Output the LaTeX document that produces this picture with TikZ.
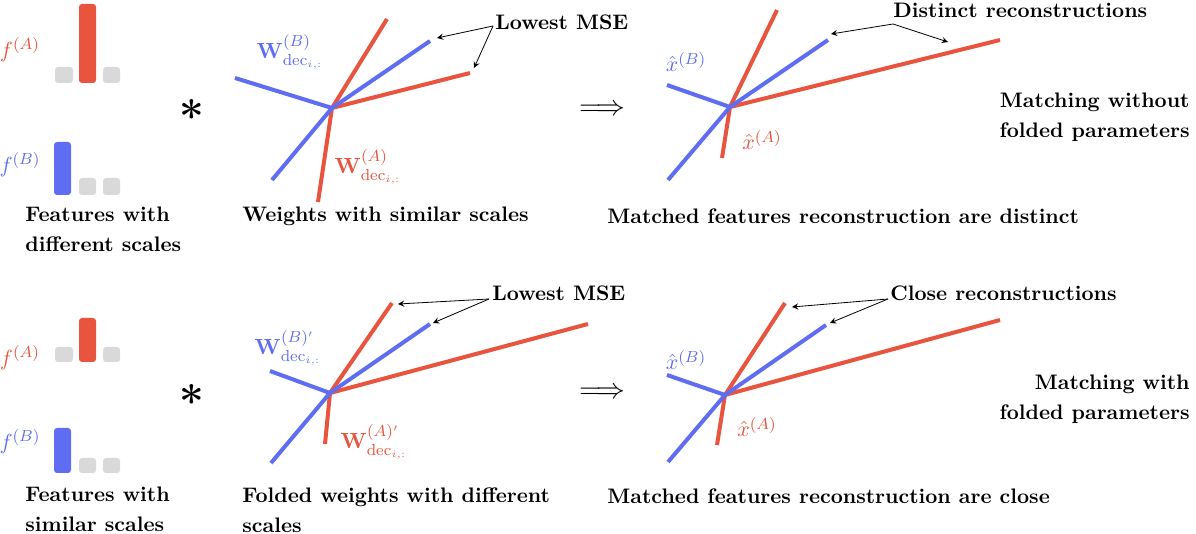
\documentclass[tikz,border=0pt]{standalone}
\usepackage{amsmath,bm}
\begin{document}
\begin{tikzpicture}[x=0.5pt,y=-0.5pt,
  txt/.style={font=\bfseries\fontsize{10.5}{12}\selectfont,inner sep=0pt},
  lab/.style={font=\fontsize{11}{12}\selectfont,inner sep=1pt},
  rl/.style={draw=myred,line width=2pt},
  bl/.style={draw=myblue,line width=2pt},
  bar/.style={rounded corners=1.5pt},
  arr/.style={->,>=stealth,thin}]
\definecolor{myred}{HTML}{E8543D}
\definecolor{myblue}{HTML}{5F6DF2}
\definecolor{mygrey}{HTML}{D9D9D9}
\useasboundingbox (0,0) rectangle (1196,534);
% ---------- top row
\fill[mygrey,bar] (55,67) rectangle (73,83);
\fill[myred,bar] (79,4) rectangle (96,83);
\fill[mygrey,bar] (103,67) rectangle (120,83);
\node[lab,text=myred] (fa1) at (20,50) {$f^{(A)}$};
\fill[myblue,bar] (54,142) rectangle (71,195);
\fill[mygrey,bar] (79,178) rectangle (96,195);
\fill[mygrey,bar] (103,178) rectangle (120,195);
\node[lab,text=myblue] (fb1) at (20,165) {$f^{(B)}$};
\node[txt,align=left,anchor=north west] (t1) at (25,207) {Features with\\[3pt]different scales};
\node (s1) at (192,116) {\fontsize{22}{22}\selectfont\bfseries *};
\coordinate (c1) at (332,108);
\coordinate (r1a) at (387,19); \coordinate (b1a) at (430,41); \coordinate (r1b) at (470,73);
\draw[rl] (c1)--(r1a); \draw[rl] (c1)--(r1b); \draw[rl] (c1)--(318,202);
\draw[bl] (c1)--(b1a); \draw[bl] (c1)--(235,78); \draw[bl] (c1)--(272,180);
\node[lab,text=myblue] (wb1) at (290,52) {$\mathbf{W}^{(B)}_{\mathrm{dec}_{i,:}}$};
\node[lab,text=myred] (wa1) at (368,167) {$\mathbf{W}^{(A)}_{\mathrm{dec}_{i,:}}$};
\node[txt,anchor=west] (l1) at (495,22) {Lowest MSE};
\coordinate (ap1) at (493,26);
\draw[arr] (ap1)--(437,38); \draw[arr] (ap1)--(474,68);
\node[txt,anchor=west] (t2) at (242,216) {Weights with similar scales};
\node (i1) at (602,110) {\Large$\Longrightarrow$};
\coordinate (c2) at (730,107);
\draw[rl] (c2)--(777,10); \draw[rl] (c2)--(1000,40); \draw[rl] (c2)--(722,158);
\draw[bl] (c2)--(828,40); \draw[bl] (c2)--(667,85); \draw[bl] (c2)--(668,180);
\node[lab,text=myblue] (xb1) at (686,62) {$\hat{x}^{(B)}$};
\node[lab,text=myred] (xa1) at (762,140) {$\hat{x}^{(A)}$};
\node[txt,anchor=west] (d1) at (893,10) {Distinct reconstructions};
\coordinate (ap2) at (893,24);
\draw[arr] (ap2)--(831,34); \draw[arr] (ap2)--(948,42);
\node[txt,align=right,anchor=east] (m1) at (1190,117) {Matching without\\[3pt]folded parameters};
\node[txt,anchor=west] (t3) at (607,216) {Matched features reconstruction are distinct};
% ---------- bottom row
\fill[mygrey,bar] (55,347) rectangle (73,362);
\fill[myred,bar] (79,318) rectangle (96,362);
\fill[mygrey,bar] (103,347) rectangle (120,362);
\node[lab,text=myred] (fa2) at (20,358) {$f^{(A)}$};
\fill[myblue,bar] (54,428) rectangle (71,473);
\fill[mygrey,bar] (79,458) rectangle (96,473);
\fill[mygrey,bar] (103,458) rectangle (120,473);
\node[lab,text=myblue] (fb2) at (20,442) {$f^{(B)}$};
\node[txt,align=left,anchor=north west] (t4) at (25,487) {Features with\\[3pt]similar scales};
\node (s2) at (192,401) {\fontsize{22}{22}\selectfont\bfseries *};
\coordinate (c3) at (330,393);
\draw[rl] (c3)--(392,303); \draw[rl] (c3)--(588,324); \draw[rl] (c3)--(325,444);
\draw[bl] (c3)--(430,324); \draw[bl] (c3)--(270,371); \draw[bl] (c3)--(271,463);
\node[lab,text=myblue] (wb2) at (288,348) {$\mathbf{W}^{(B)'}_{\mathrm{dec}_{i,:}}$};
\node[lab,text=myred] (wa2) at (374,442) {$\mathbf{W}^{(A)'}_{\mathrm{dec}_{i,:}}$};
\node[txt,anchor=west] (l2) at (492,293) {Lowest MSE};
\coordinate (ap3) at (489,299);
\draw[arr] (ap3)--(398,304); \draw[arr] (ap3)--(433,323);
\node[txt,align=left,anchor=north west] (t5) at (242,487) {Folded weights with different\\[3pt]scales};
\node (i2) at (602,393) {\Large$\Longrightarrow$};
\coordinate (c4) at (725,395);
\draw[rl] (c4)--(785,303); \draw[rl] (c4)--(1000,320); \draw[rl] (c4)--(717,445);
\draw[bl] (c4)--(826,325); \draw[bl] (c4)--(667,375); \draw[bl] (c4)--(668,462);
\node[lab,text=myblue] (xb2) at (686,360) {$\hat{x}^{(B)}$};
\node[lab,text=myred] (xa2) at (757,427) {$\hat{x}^{(A)}$};
\node[txt,anchor=west] (d2) at (890,293) {Close reconstructions};
\coordinate (ap4) at (888,299);
\draw[arr] (ap4)--(792,307); \draw[arr] (ap4)--(830,323);
\node[txt,align=right,anchor=east] (m2) at (1190,399) {Matching with\\[3pt]folded parameters};
\node[txt,anchor=west] (t6) at (607,496) {Matched features reconstruction are close};
\end{tikzpicture}
\end{document}
